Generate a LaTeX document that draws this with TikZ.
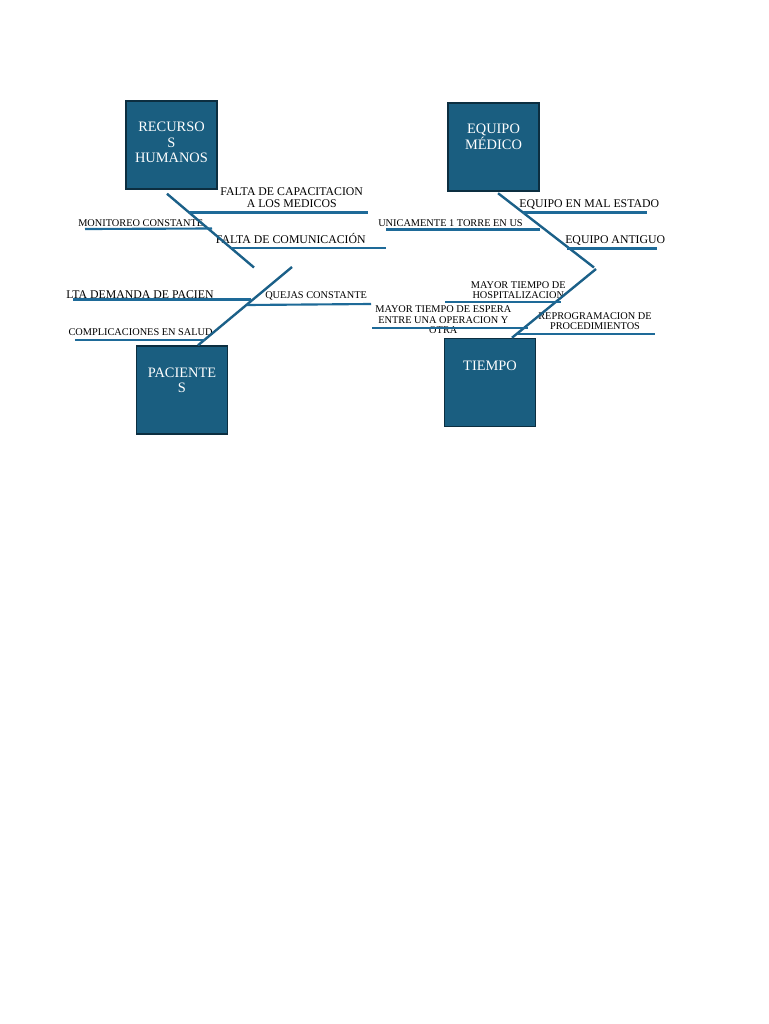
\documentclass[tikz,border=0pt]{standalone}
\usepackage{fontspec}
\setmainfont{Liberation Serif}
\definecolor{boxfill}{HTML}{1A5E80}
\definecolor{boxline}{HTML}{0C2E40}
\definecolor{bonecol}{HTML}{1B6088}
\definecolor{twigcol}{HTML}{1E6A98}
\begin{document}
\begin{tikzpicture}[x=0.75pt,y=-0.75pt,
  catbox/.style={draw=boxline, fill=boxfill, line width=1.1pt, minimum width=68.25pt, minimum height=66pt, inner sep=0pt},
  boxtext/.style={text=white, font=\fontsize{10.8}{11.6}\selectfont, align=center, inner sep=0pt},
  big/.style={font=\fontsize{8.85}{8.7}\selectfont, inner sep=0pt, align=center},
  small/.style={font=\fontsize{7.75}{7.5}\selectfont, inner sep=0pt, align=center},
  bone/.style={draw=bonecol, line width=1.8pt},
  twig/.style={draw=twigcol, line width=1.6pt}]
\useasboundingbox[fill=white] (0,0) rectangle (768,1024);

% category boxes
\node[catbox] (rh) at (171.5,145) {};
\node[boxtext] (rhT) at (171.5,142.5) {RECURSO\\S\\HUMANOS};
\node[catbox] (eq) at (493.5,147) {};
\node[boxtext] (eqT) at (493.5,137) {EQUIPO\\MÉDICO};
\node[catbox] (pa) at (182,390) {};
\node[boxtext] (paT) at (182,380.5) {PACIENTE\\S};
\node[catbox] (ti) at (490,382.5) {};
\node[boxtext] (tiT) at (490,366) {TIEMPO};

% labels
\node[big] (t1) at (291.7,197.5) {FALTA DE CAPACITACION\\A LOS MEDICOS};
\node[small,anchor=base west] (t2) at (78,226) {MONITOREO CONSTANTE};
\node[big,anchor=base] (t3) at (290.8,243.8) {FALTA DE COMUNICACIÓN};
\node[big,anchor=base] (t4) at (589.3,207.1) {EQUIPO EN MAL ESTADO};
\node[small,anchor=base west] (t5) at (378,226) {UNICAMENTE 1 TORRE EN US};
\node[big,anchor=base west] (t6) at (565,243.8) {EQUIPO ANTIGUO};
\node[big,anchor=base west] (t7) at (66,298) {LTA DEMANDA DE PACIEN};
\node[small,anchor=base west] (t8) at (265,298.6) {QUEJAS CONSTANTE};
\node[small,anchor=base west] (t9) at (68.3,335) {COMPLICACIONES EN SALUD};
\node[small] (t10) at (518.3,290) {MAYOR TIEMPO DE\\HOSPITALIZACION};
\node[small,font=\fontsize{7.75}{8.1}\selectfont] (t11) at (443.3,319.8) {MAYOR TIEMPO DE ESPERA\\ENTRE UNA OPERACION Y\\OTRA};
\node[small] (t12) at (595,320.7) {REPROGRAMACION DE\\PROCEDIMIENTOS};

% bone ends
\coordinate (d1e) at (254,267.5);
\coordinate (d2s) at (292,267);
\coordinate (d3e) at (594,267.5);
\coordinate (d4s) at (596,269);

% main bones
\draw[bone] ([xshift=-3.4pt,yshift=-3pt]rh.south) -- (d1e);
\draw[bone] ([xshift=3.4pt,yshift=-1.1pt]eq.south) -- (d3e);
\draw[bone] (d2s) -- ([xshift=12pt]pa.north);
\draw[bone] (d4s) -- ([xshift=16.5pt]ti.north);

% cause lines
\draw[twig] (189,212.5) -- (368,212.5);
\draw[twig] (85,229) -- (212,228.5);
\draw[twig] (231,248) -- (386,248);
\draw[twig] (523,212.5) -- (647,212.5);
\draw[twig] (386,229.5) -- (540,229.5);
\draw[twig] (567,248.5) -- (657,248.5);
\draw[twig] (73,299.5) -- (251,299.5);
\draw[twig] (247,305) -- (371,304);
\draw[twig] (75,340) -- (205,340);
\draw[twig] (445,302.3) -- (561,302.3);
\draw[twig] (372,327.8) -- (528,327.8);
\draw[twig] (517,334) -- (655,334);
\end{tikzpicture}
\end{document}
